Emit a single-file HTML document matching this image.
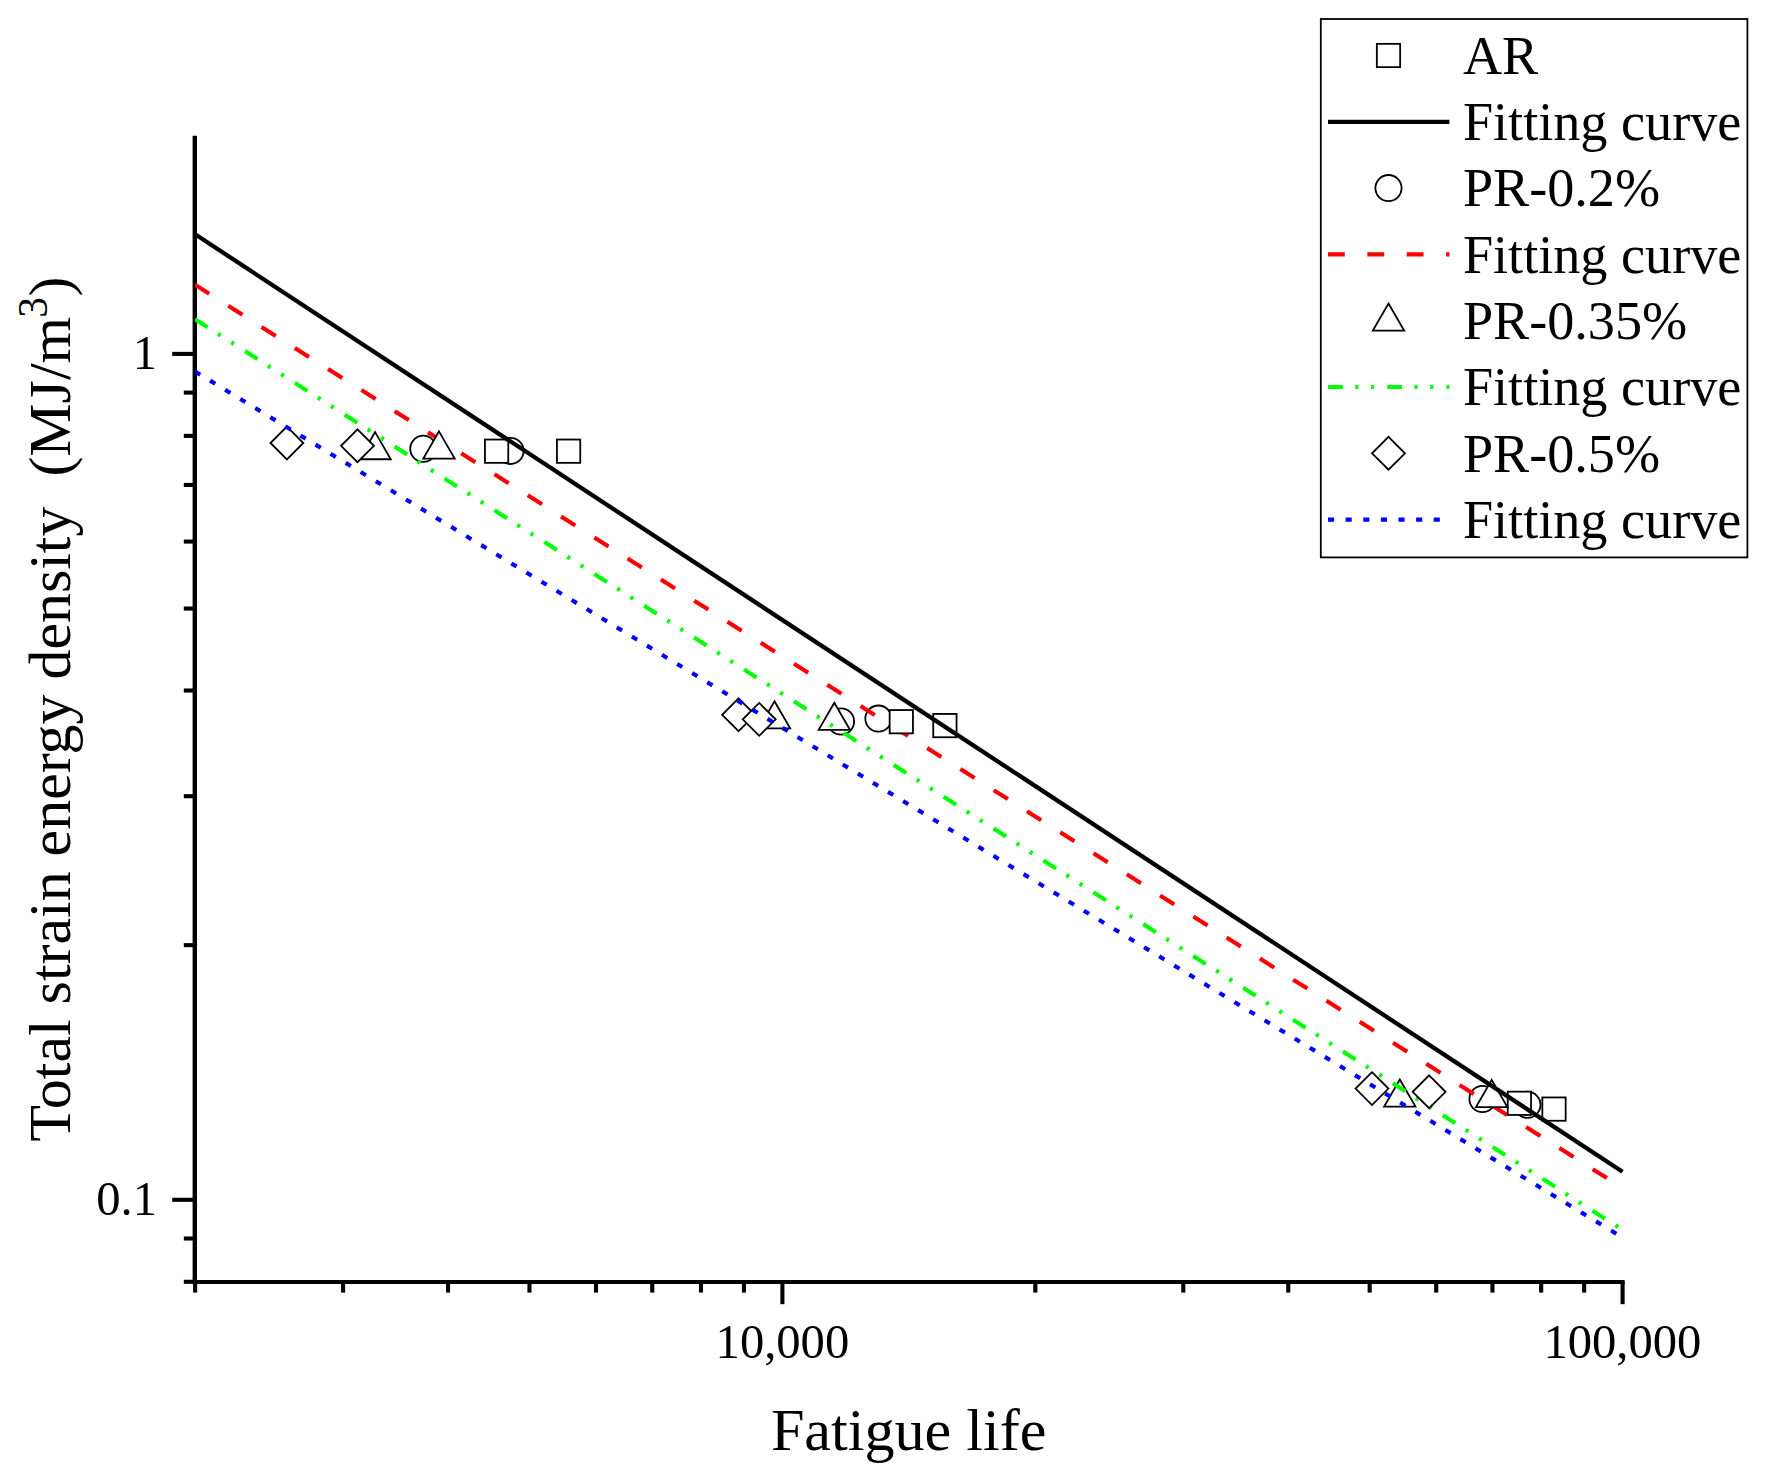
<!DOCTYPE html>
<html lang="en"><head><meta charset="utf-8"><title>Total strain energy density vs fatigue life</title>
<style>html,body{margin:0;padding:0;background:#fff}body{width:1767px;height:1479px;overflow:hidden}svg{display:block}text{font-family:'Liberation Serif','Times New Roman',serif;fill:#000}</style>
</head><body>
<svg width="1767" height="1479" viewBox="0 0 1767 1479">
<rect x="0" y="0" width="1767" height="1479" fill="#fff"/>
<g stroke="#000" fill="none" stroke-linecap="butt">
<line x1="194.80" y1="135.80" x2="194.80" y2="1284.20" stroke-width="4.40"/>
<line x1="192.60" y1="1282.00" x2="1624.70" y2="1282.00" stroke-width="4.00"/>
<line x1="172.20" y1="353.90" x2="194.80" y2="353.90" stroke-width="4.10"/>
<line x1="172.20" y1="1199.80" x2="194.80" y2="1199.80" stroke-width="4.10"/>
<line x1="183.80" y1="392.61" x2="194.80" y2="392.61" stroke-width="4.10"/>
<line x1="183.80" y1="435.88" x2="194.80" y2="435.88" stroke-width="4.10"/>
<line x1="183.80" y1="484.93" x2="194.80" y2="484.93" stroke-width="4.10"/>
<line x1="183.80" y1="541.56" x2="194.80" y2="541.56" stroke-width="4.10"/>
<line x1="183.80" y1="608.54" x2="194.80" y2="608.54" stroke-width="4.10"/>
<line x1="183.80" y1="690.52" x2="194.80" y2="690.52" stroke-width="4.10"/>
<line x1="183.80" y1="796.20" x2="194.80" y2="796.20" stroke-width="4.10"/>
<line x1="183.80" y1="945.16" x2="194.80" y2="945.16" stroke-width="4.10"/>
<line x1="183.80" y1="1238.51" x2="194.80" y2="1238.51" stroke-width="4.10"/>
<line x1="183.80" y1="1281.78" x2="194.80" y2="1281.78" stroke-width="4.10"/>
<line x1="782.40" y1="1282.00" x2="782.40" y2="1304.20" stroke-width="4.10"/>
<line x1="1622.60" y1="1282.00" x2="1622.60" y2="1304.20" stroke-width="4.10"/>
<line x1="195.13" y1="1282.00" x2="195.13" y2="1292.60" stroke-width="4.10"/>
<line x1="343.08" y1="1282.00" x2="343.08" y2="1292.60" stroke-width="4.10"/>
<line x1="448.05" y1="1282.00" x2="448.05" y2="1292.60" stroke-width="4.10"/>
<line x1="529.47" y1="1282.00" x2="529.47" y2="1292.60" stroke-width="4.10"/>
<line x1="596.00" y1="1282.00" x2="596.00" y2="1292.60" stroke-width="4.10"/>
<line x1="652.25" y1="1282.00" x2="652.25" y2="1292.60" stroke-width="4.10"/>
<line x1="700.98" y1="1282.00" x2="700.98" y2="1292.60" stroke-width="4.10"/>
<line x1="743.95" y1="1282.00" x2="743.95" y2="1292.60" stroke-width="4.10"/>
<line x1="1035.33" y1="1282.00" x2="1035.33" y2="1292.60" stroke-width="4.10"/>
<line x1="1183.28" y1="1282.00" x2="1183.28" y2="1292.60" stroke-width="4.10"/>
<line x1="1288.25" y1="1282.00" x2="1288.25" y2="1292.60" stroke-width="4.10"/>
<line x1="1369.67" y1="1282.00" x2="1369.67" y2="1292.60" stroke-width="4.10"/>
<line x1="1436.20" y1="1282.00" x2="1436.20" y2="1292.60" stroke-width="4.10"/>
<line x1="1492.45" y1="1282.00" x2="1492.45" y2="1292.60" stroke-width="4.10"/>
<line x1="1541.18" y1="1282.00" x2="1541.18" y2="1292.60" stroke-width="4.10"/>
<line x1="1584.15" y1="1282.00" x2="1584.15" y2="1292.60" stroke-width="4.10"/>
</g>
<g font-size="48.60">
<text x="782.40" y="1357.80" text-anchor="middle">10,000</text>
<text x="1622.40" y="1357.80" text-anchor="middle">100,000</text>
<text x="157.00" y="368.50" text-anchor="end">1</text>
<text x="157.00" y="1214.50" text-anchor="end">0.1</text>
</g>
<text x="908.70" y="1449.60" font-size="60.15" text-anchor="middle">Fatigue life</text>
<text transform="translate(69.90,1141.60) rotate(-90)" font-size="59.90" xml:space="preserve" style="white-space:pre">Total strain energy density  (MJ/m<tspan font-size="41.50" dy="-23.00" dx="-1">3</tspan><tspan dy="23.00" dx="0.6">)</tspan></text>
<defs><clipPath id="plotclip"><rect x="194.7" y="0" width="1500" height="1479"/></clipPath></defs>
<g stroke="#000" stroke-width="1.80" fill="#fff" stroke-linejoin="miter">
<circle cx="423.30" cy="448.80" r="13.10"/>
<circle cx="510.50" cy="450.90" r="13.10"/>
<circle cx="841.00" cy="721.50" r="13.10"/>
<circle cx="878.40" cy="718.60" r="13.10"/>
<circle cx="1482.50" cy="1099.00" r="13.10"/>
<circle cx="1527.40" cy="1104.80" r="13.10"/>
</g>
<line x1="195.00" y1="284.80" x2="1622.50" y2="1188.00" stroke="#ff0000" stroke-width="4.15" fill="none" clip-path="url(#plotclip)" stroke-dasharray="16.8 22.58"/>
<g stroke="#000" stroke-width="1.80" fill="#fff" stroke-linejoin="miter">
<rect x="484.95" y="439.55" width="23.30" height="23.30"/>
<rect x="556.95" y="439.55" width="23.30" height="23.30"/>
<rect x="889.65" y="710.05" width="23.30" height="23.30"/>
<rect x="933.25" y="713.95" width="23.30" height="23.30"/>
<rect x="1507.75" y="1091.65" width="23.30" height="23.30"/>
<rect x="1542.35" y="1097.45" width="23.30" height="23.30"/>
</g>
<g stroke="#000" stroke-width="1.80" fill="#fff" stroke-linejoin="miter">
<polygon points="375.10,432.10 390.78,459.25 359.42,459.25"/>
<polygon points="439.00,431.40 454.68,458.55 423.32,458.55"/>
<polygon points="774.50,701.20 790.18,728.35 758.82,728.35"/>
<polygon points="834.30,702.70 849.98,729.85 818.62,729.85"/>
<polygon points="1399.80,1079.50 1415.48,1106.65 1384.12,1106.65"/>
<polygon points="1491.70,1079.90 1507.38,1107.05 1476.02,1107.05"/>
</g>
<line x1="195.00" y1="319.20" x2="1622.50" y2="1229.80" stroke="#00ff00" stroke-width="4.15" fill="none" clip-path="url(#plotclip)" stroke-dasharray="14.9 12.35 3.2 12.55 3.2 13.0"/>
<line x1="195.00" y1="234.20" x2="1622.50" y2="1171.80" stroke="#000" stroke-width="4.30" fill="none" clip-path="url(#plotclip)"/>
<g stroke="#000" stroke-width="1.80" fill="#fff" stroke-linejoin="miter">
<polygon points="286.90,426.55 303.35,443.00 286.90,459.45 270.45,443.00"/>
<polygon points="357.50,429.35 373.95,445.80 357.50,462.25 341.05,445.80"/>
<polygon points="738.60,698.35 755.05,714.80 738.60,731.25 722.15,714.80"/>
<polygon points="759.20,702.90 775.65,719.35 759.20,735.80 742.75,719.35"/>
<polygon points="1372.00,1072.15 1388.45,1088.60 1372.00,1105.05 1355.55,1088.60"/>
<polygon points="1429.10,1075.35 1445.55,1091.80 1429.10,1108.25 1412.65,1091.80"/>
</g>
<line x1="195.00" y1="371.50" x2="1622.50" y2="1237.40" stroke="#0000ff" stroke-width="4.15" fill="none" clip-path="url(#plotclip)" stroke-dasharray="6.1 11.52"/>
<rect x="1320.80" y="19.00" width="426.60" height="538.40" fill="#fff" stroke="#000" stroke-width="1.8"/>
<g stroke="#000" stroke-width="1.80" fill="#fff" stroke-linejoin="miter">
<rect x="1376.85" y="43.85" width="23.30" height="23.30"/>
<circle cx="1388.50" cy="188.10" r="13.10"/>
<polygon points="1388.50,303.50 1404.18,330.65 1372.82,330.65"/>
<polygon points="1388.50,436.85 1404.95,453.30 1388.50,469.75 1372.05,453.30"/>
</g>
<line x1="1328" y1="121.80" x2="1449.4" y2="121.80" stroke="#000" stroke-width="4.30"/>
<line x1="1328" y1="254.40" x2="1449.4" y2="254.40" stroke="#ff0000" stroke-width="4.15" stroke-dasharray="16.8 22.58"/>
<line x1="1328" y1="387.00" x2="1449.4" y2="387.00" stroke="#00ff00" stroke-width="4.15" stroke-dasharray="14.9 12.35 3.2 12.55 3.2 13.0"/>
<line x1="1328" y1="519.60" x2="1449.4" y2="519.60" stroke="#0000ff" stroke-width="4.15" stroke-dasharray="6.1 11.52"/>
<g font-size="54.20">
<text x="1462.90" y="73.70">AR</text>
<text x="1462.90" y="140.00">Fitting curve</text>
<text x="1462.90" y="206.30">PR-0.2%</text>
<text x="1462.90" y="272.60">Fitting curve</text>
<text x="1462.90" y="338.90">PR-0.35%</text>
<text x="1462.90" y="405.20">Fitting curve</text>
<text x="1462.90" y="471.50">PR-0.5%</text>
<text x="1462.90" y="537.80">Fitting curve</text>
</g>
</svg>
</body></html>
